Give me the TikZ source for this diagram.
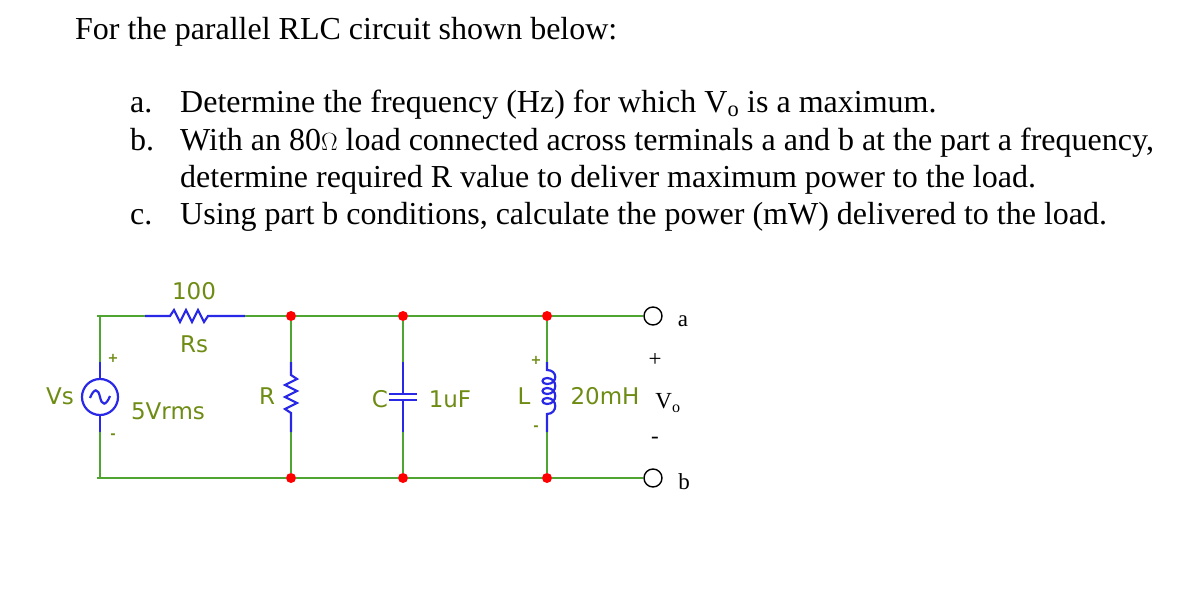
\documentclass[tikz,border=0pt]{standalone}
\usepackage{fontspec}
\setmainfont{Liberation Serif}
\newfontfamily\cirfont{DejaVu Sans}
\begin{document}
\begin{tikzpicture}[x=1pt,y=-1pt,
 wire/.style={draw={rgb,255:red,80;green,165;blue,50},line width=2.2pt},
 comp/.style={draw={rgb,255:red,40;green,40;blue,230},line width=2.2pt},
 lbl/.style={text={rgb,255:red,110;green,140;blue,20},font=\cirfont\fontsize{23}{23}\selectfont,inner sep=0pt},
 txt/.style={font=\fontsize{32}{32}\selectfont,inner sep=0pt,anchor=base west},
 dot/.style={circle,fill=red,inner sep=0pt,minimum size=10pt},
 term/.style={circle,draw=black,line width=1.4pt,inner sep=0pt,minimum size=18pt}]
\useasboundingbox (0,0) rectangle (1192,594);
\node[txt] (t0) at (75,40) {For the parallel RLC circuit shown below:};
\node[txt] (la) at (130,113) {a.};
\node[txt] (ta) at (180,113) {Determine the frequency (Hz) for which V\textsubscript{o} is a maximum.};
\node[txt] (lb) at (130,150) {b.};
\node[txt] (tb) at (180,150) {With an 80\(\Omega\) load connected across terminals a and b at the part a frequency,};
\node[txt] (tb2) at (180,187) {determine required R value to deliver maximum power to the load.};
\node[txt] (lc) at (130,224) {c.};
\node[txt] (tc) at (180,224) {Using part b conditions, calculate the power (mW) delivered to the load.};
% nodes
\coordinate (tl) at (97,316); \coordinate (bl) at (97,478);
\node[dot] (d1) at (291,316) {}; \node[dot] (d2) at (403,316) {}; \node[dot] (d3) at (547,316) {};
\node[dot] (e1) at (291,478) {}; \node[dot] (e2) at (403,478) {}; \node[dot] (e3) at (547,478) {};
\node[term] (ta1) at (653,316) {}; \node[term] (tb1) at (653,478) {};
% source
\node[circle,comp,minimum size=36pt,inner sep=0pt] (vs) at (100,397) {};
\draw[comp] (vs.north) -- (100,362) (vs.south) -- (100,432);
\draw[comp] (90,398) .. controls (94,388) and (98,388) .. (100,397) .. controls (102,406) and (106,406) .. (110,396);
\draw[wire] (100,362) -- (100,316) -- (tl) -- (145,316);
\draw[wire] (100,432) -- (100,478) -- (bl);
\draw[wire] (bl) -- (e1) -- (e2) -- (e3) -- (tb1);
% Rs
\draw[comp] (145,316) -- (170,316) -- (174,310) -- (180,322) -- (186,310) -- (192,322) -- (198,310) -- (204,322) -- (208,316) -- (245,316);
\draw[wire] (245,316) -- (d1) -- (d2) -- (d3) -- (ta1);
% R
\draw[wire] (d1) -- (291,362); \draw[wire] (291,432) -- (e1);
\draw[comp] (291,362) -- (291,375) -- (297,379) -- (285,385) -- (297,391) -- (285,397) -- (297,403) -- (285,409) -- (291,413) -- (291,432);
% C
\draw[wire] (d2) -- (403,362); \draw[wire] (403,432) -- (e2);
\draw[comp] (403,362) -- (403,394) (389,394) -- (417,394) (389,400) -- (417,400) (403,400) -- (403,432);
% L
\draw[wire] (d3) -- (547,362); \draw[wire] (547,432) -- (e3);
\draw[comp] (547,362) -- (547,370) .. controls (558,370) and (558,384) .. (547,384) .. controls (541,384) and (541,378) .. (547,378)
 .. controls (558,378) and (558,394) .. (547,394) .. controls (541,394) and (541,388) .. (547,388)
 .. controls (558,388) and (558,404) .. (547,404) .. controls (541,404) and (541,398) .. (547,398)
 .. controls (558,398) and (558,414) .. (547,414) -- (547,432);
% labels
\node[lbl] (l100) at (194,291) {100};
\node[lbl] (lrs) at (194,344) {Rs};
\node[lbl] (lvs) at (60,396) {Vs};
\node[lbl] (l5v) at (168,411) {5Vrms};
\node[lbl,font=\cirfont\bfseries\fontsize{13}{13}\selectfont] (sp) at (113,358) {+};
\node[lbl,font=\cirfont\bfseries\fontsize{13}{13}\selectfont] (sm) at (113,436) {-};
\node[lbl] (lr) at (267,396) {R};
\node[lbl] (lc1) at (380,399) {C};
\node[lbl] (l1u) at (450,399) {1uF};
\node[lbl] (ll) at (524,396) {L};
\node[lbl] (l20) at (605,396) {20mH};
\node[lbl,font=\cirfont\bfseries\fontsize{13}{13}\selectfont] (lp) at (536,360) {+};
\node[lbl,font=\cirfont\bfseries\fontsize{13}{13}\selectfont] (lm) at (536,428) {-};
\node[inner sep=0pt,font=\fontsize{23}{23}\selectfont] (pa) at (683,321) {a};
\node[inner sep=0pt,font=\fontsize{23}{23}\selectfont] (pb) at (684,482) {b};
\node[inner sep=0pt,font=\fontsize{23}{23}\selectfont] (pp) at (655,360) {+};
\node[inner sep=0pt,font=\fontsize{23}{23}\selectfont] (vo) at (668,403) {V\textsubscript{o}};
\node[inner sep=0pt,font=\fontsize{23}{23}\selectfont] (pm) at (655,440) {-};
\end{tikzpicture}
\end{document}
